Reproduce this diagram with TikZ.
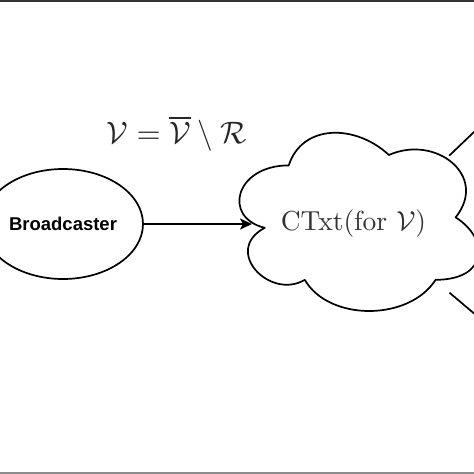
\documentclass[tikz,border=0pt]{standalone}
\usepackage{graphicx}
\usepackage{fontspec}
\newfontfamily\bcfont{Liberation Sans}
\usetikzlibrary{arrows.meta,shapes.geometric}
\tikzset{
  outline/.style={draw=black, line width=1.7pt},
  conn/.style={draw=black, line width=1.7pt},
  arrowconn/.style={conn, -{Stealth[length=12pt,width=11pt,inset=3pt]}},
}
\begin{document}
\begin{tikzpicture}[x=1pt,y=-1pt]
\useasboundingbox (0,0) rectangle (474,474);
\clip (0,0) rectangle (474,474);
\fill[white] (0,0) rectangle (474,474);
% frame lines
\fill[black!80] (0,0) rectangle (474,2);
\fill[black!45] (0,472) rectangle (474,474);
% formula
\node[anchor=base, text=black!85, inner sep=0] (formula) at (176.5,143.5)
  {\scalebox{3.1}{$\mathcal{V}=\overline{\mathcal{V}}\setminus\mathcal{R}$}};
% broadcaster
\node[ellipse, outline, minimum width=160pt, minimum height=110pt, inner sep=0,
  font=\bcfont\bfseries\fontsize{18.5}{22}\selectfont] (bc) at (63,224) {Broadcaster};
% cloud
\draw[outline, line join=round]
  (288.75,165.4) .. controls (235.35,165.4) and (222,217.4) .. (264.72,227.8)
  .. controls (222,250.7) and (270.06,300.6) .. (304.77,279.8)
  .. controls (328.8,321.4) and (408.9,321.4) .. (435.6,279.8)
  .. controls (489,279.8) and (489,238.2) .. (455.6,217.4)
  .. controls (489,175.8) and (435.6,134.2) .. (388.9,155.0)
  .. controls (355.5,123.8) and (302.1,123.8) .. (288.75,165.4) -- cycle;
\node[anchor=base, text=black!80, inner sep=0] (ct) at (353.5,230.5)
  {\scalebox{2.75}{CTxt(for $\mathcal{V}$)}};
\coordinate (cloudW) at (252,224);
\coordinate (cloudNE) at (449.3,155.6);
\coordinate (outNE) at (490,116.7);
\coordinate (cloudSE) at (449.5,292.7);
\coordinate (outSE) at (490,327);
% connectors
\draw[arrowconn] (bc.east) -- (cloudW);
\draw[conn] (cloudNE) -- (outNE);
\draw[conn] (cloudSE) -- (outSE);
\end{tikzpicture}
\end{document}
